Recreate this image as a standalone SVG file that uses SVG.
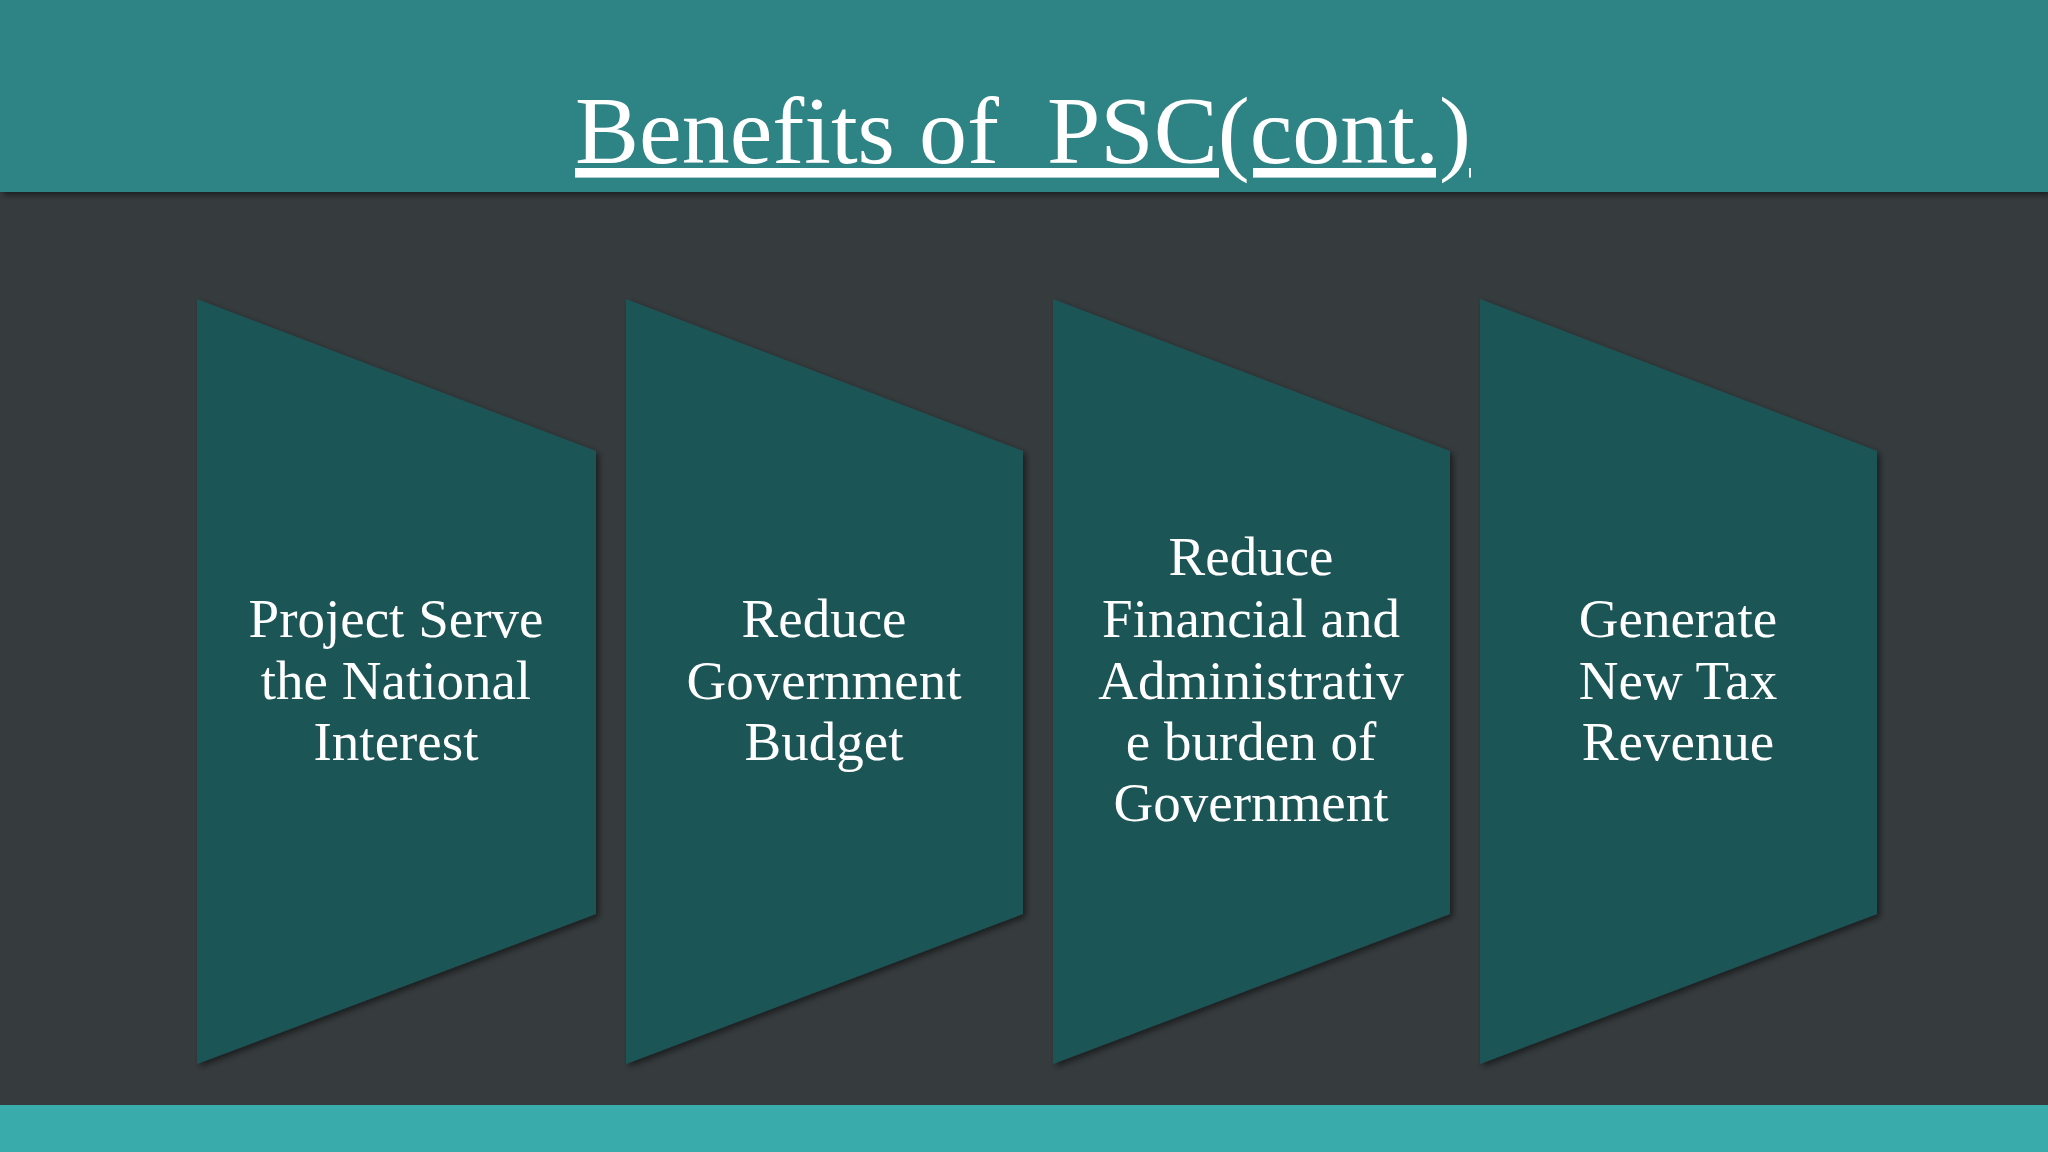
<svg xmlns="http://www.w3.org/2000/svg" width="2048" height="1152" viewBox="0 0 2048 1152">
<defs>
<style>
.node{fill:#1d5457}
.t{font-family:"Liberation Serif",serif;font-size:55px;fill:#ffffff;text-anchor:middle}
</style>
<filter id="sh" x="-10%" y="-10%" width="130%" height="130%"><feDropShadow dx="3" dy="3" stdDeviation="3" flood-color="#000" flood-opacity="0.5"/></filter>
</defs>
<rect width="2048" height="1152" fill="#363b3d"/>
<rect width="2048" height="192" fill="#2e8385" filter="url(#sh)"/>
<rect y="1105" width="2048" height="47" fill="#3aabab"/>
<text x="1023" y="163" font-family="Liberation Serif,serif" font-size="96" fill="#ffffff" text-anchor="middle" text-decoration="underline" xml:space="preserve">Benefits of  PSC(cont.)</text>
<g id="n1"><polygon class="node" filter="url(#sh)" points="197,299 596,451 596,914 197,1064"/>
<text class="t" x="396" y="637">Project Serve</text><text class="t" x="396" y="699">the National</text><text class="t" x="396" y="760">Interest</text></g>
<g id="n2"><polygon class="node" filter="url(#sh)" points="626,299 1023,451 1023,914 626,1064"/>
<text class="t" x="824" y="637">Reduce</text><text class="t" x="824" y="699">Government</text><text class="t" x="824" y="760">Budget</text></g>
<g id="n3"><polygon class="node" filter="url(#sh)" points="1053,299 1450,451 1450,914 1053,1064"/>
<text class="t" x="1251" y="575">Reduce</text><text class="t" x="1251" y="637">Financial and</text><text class="t" x="1251" y="699">Administrativ</text><text class="t" x="1251" y="760">e burden of</text><text class="t" x="1251" y="821">Government</text></g>
<g id="n4"><polygon class="node" filter="url(#sh)" points="1480,299 1877,451 1877,914 1480,1064"/>
<text class="t" x="1678" y="637">Generate</text><text class="t" x="1678" y="699">New Tax</text><text class="t" x="1678" y="760">Revenue</text></g>
<g id="connectors"/>
</svg>
